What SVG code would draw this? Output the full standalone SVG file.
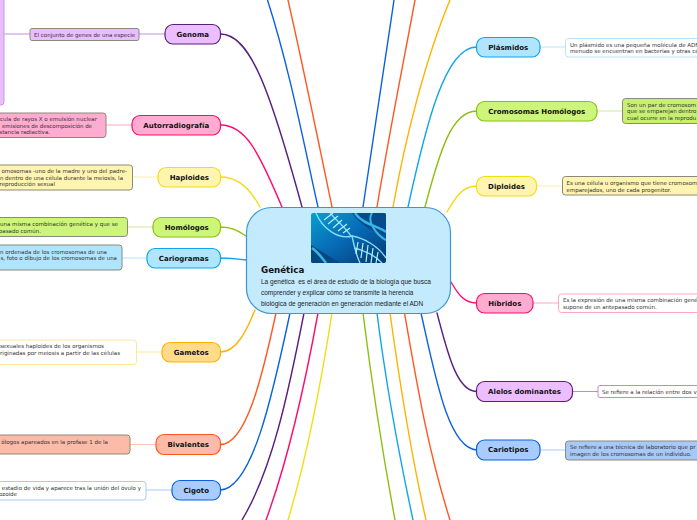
<svg xmlns="http://www.w3.org/2000/svg" width="697" height="520" viewBox="0 0 697 520">
<style>
text{font-family:"DejaVu Sans",sans-serif;fill:#111}
.n{font-size:7px;font-weight:700;text-anchor:middle;dominant-baseline:central}
.d{font-size:5.500px;fill:#333;dominant-baseline:central}
.e{text-anchor:end}
.c{fill:none;stroke-width:1.400;stroke-linecap:round}
.l{fill:none;stroke-width:1}
.b{stroke-width:1.200}
.g{stroke:#8a8a7a;stroke-width:1}
.body{font-family:"Liberation Sans",Arial,sans-serif;font-size:6.500px;fill:#222;dominant-baseline:central;white-space:pre}
</style>
<defs>
<linearGradient id="dna" x1="0" y1="0" x2="1" y2="1"><stop offset="0" stop-color="#0a9ed0"/><stop offset=".5" stop-color="#0768b4"/><stop offset="1" stop-color="#06386e"/></linearGradient>
<clipPath id="pic"><rect x="311" y="213" width="75" height="50" rx="2"/></clipPath>
</defs>
<g id="connectors">
<g class="c">
<path stroke="#5b1e7c" d="M220.500 34C250 34 270 90 302 207"/>
<path stroke="#ff0a6c" d="M220.500 125C245 125 258 150 282 207"/>
<path stroke="#f2dc12" d="M220.500 177C238 177 250 188 260 207"/>
<path stroke="#8cc00f" d="M220.500 227C232 227 238 231 246 236"/>
<path stroke="#0ea5ec" d="M220.500 258C230 258 238 259 246 260"/>
<path stroke="#ffb300" d="M220.500 352C236 352 246 332 255 310"/>
<path stroke="#ff5722" d="M220.500 444.500C246 444 262 378 276 313"/>
<path stroke="#0a62e0" d="M220.500 490C252 488 272 398 290 313"/>
<path stroke="#5b1e7c" d="M242 520C272 470 288 395 304 313"/>
<path stroke="#ff0a6c" d="M266 520C288 460 304 390 318 313"/>
<path stroke="#f2dc12" d="M288 520C306 460 320 390 332 313"/>
<path stroke="#0a62e0" d="M267.500 0C290 70 304 145 318 207"/>
<path stroke="#ff5722" d="M288 0C304 70 318 140 332 207"/>
<path stroke="#0a62e0" d="M394 0C384 70 373 140 363 207"/>
<path stroke="#ff5722" d="M415 0C402 70 388 140 377 207"/>
<path stroke="#ffb300" d="M450 0C425 60 405 140 393 207"/>
<path stroke="#0ea5ec" d="M476.500 47C445 47 426 125 408 207"/>
<path stroke="#8cc00f" d="M476.500 111C452 111 440 150 425 207"/>
<path stroke="#f2dc12" d="M476.500 186C462 186 455 198 447 212"/>
<path stroke="#ff0a6c" d="M476.500 303C464 303 458 294 451 282"/>
<path stroke="#5b1e7c" d="M476.500 391.500C456 391 447 350 437 313"/>
<path stroke="#0a62e0" d="M476.500 450C448 448 435 375 421 313"/>
<path stroke="#ff5722" d="M450 520C428 450 417 385 404.500 313"/>
<path stroke="#ffb300" d="M426 520C410 450 400 385 390 313"/>
<path stroke="#0ea5ec" d="M413 520C398 450 386 385 377 313"/>
<path stroke="#8cc00f" d="M395 520C382 450 372 385 363 313"/>
</g>
<g class="l">
<path stroke="#c08fdd" d="M4 34H30M139 34H165"/>
<path stroke="#ffa6c8" d="M106 125H132"/>
<path stroke="#fbeeaa" d="M132.500 177H158"/>
<path stroke="#cfe89a" d="M127.500 227H153"/>
<path stroke="#b5e4fa" d="M122 258H147"/>
<path stroke="#ffe6a0" d="M136.500 352H162"/>
<path stroke="#fcc4b4" d="M130 444.500H156"/>
<path stroke="#a8c8f8" d="M146 490H172"/>
<path stroke="#b5e4fa" d="M540 47H565.500"/>
<path stroke="#cfe89a" d="M597 111H622.500"/>
<path stroke="#fbeeaa" d="M536.500 186H562"/>
<path stroke="#ffa6c8" d="M533 303H558.500"/>
<path stroke="#b78fcc" d="M572.500 391.500H598"/>
<path stroke="#a8c8f8" d="M540 450H565.500"/>
</g>
</g>
<g id="central">
<rect x="246.500" y="207.500" width="204" height="106" rx="25" fill="#c4eafe" stroke="#3a96d8" stroke-width="1.200"/>
<g clip-path="url(#pic)">
<rect x="311" y="213" width="75" height="50" fill="url(#dna)"/>
<path d="M352 213H386V236C372 232 360 224 352 213Z" fill="#054a8c"/>
<path d="M311 245L340 263H311Z" fill="#05477f"/>
<g fill="none" stroke="#7fe0f5" stroke-width="1.400">
<path d="M316 213C322 228 338 240 352 236C354 245 356 255 360 263"/>
<path d="M330 213C338 222 346 228 351 236"/>
<path d="M352 236C364 238 378 246 386 258"/>
<path d="M354 248C364 250 376 256 382 263"/>
<path d="M312 248C318 252 322 258 326 263" stroke-width="2.500" stroke="#3ab5e0"/>
<path d="M355 213C362 224 378 226 386 232" stroke="#3ab5e0" stroke-width="2.500"/>
<path d="M372 213C366 222 378 236 386 240" stroke="#3ab5e0" stroke-width="2"/>
</g>
<path d="M324 220L333 213M328 224L338 216M333 228L342 220M338 231L347 224M343 233L350 228M358 242L356 254M363 243L361 258M368 245L366 262M373 248L371 263M378 252L376 263" stroke="#b5f0fa" stroke-width="1.200" fill="none"/>
</g>
<text x="261" y="270" style="font-size:8.700px;font-weight:700;dominant-baseline:central">Genética</text>
<text class="body" x="261" y="281.500">La genética  es el área de estudio de la biología que busca</text>
<text class="body" x="261" y="292.500">comprender y explicar cómo se transmite la herencia</text>
<text class="body" x="261" y="303.500">biológica de generación en generación mediante el ADN</text>
</g>
<g id="genoma">
<rect x="-10" y="-10" width="14" height="115" rx="3" fill="#e8beff" stroke="#c79ae0"/>
<rect x="30" y="28.500" width="109" height="12" rx="2" fill="#e8beff" class="g"/>
<text class="d" x="34" y="34.500">El conjunto de genes de una especie</text>
<rect x="165" y="24.500" width="55.500" height="19.500" rx="8" fill="#ecbdff" stroke="#5b1e7c" class="b"/>
<text class="n" x="192.750" y="34.500">Genoma</text>
</g>
<g id="autorradiografia">
<rect x="-10" y="113" width="116" height="24.500" rx="3" fill="#ffacd0" class="g"/>
<text class="d" x="0" y="119" textLength="97">cula de rayos X o emulsión nuclear</text>
<text class="d" x="2" y="126" textLength="90">emisiones de descomposición de</text>
<text class="d e" x="50" y="132">stancia radiactiva.</text>
<rect x="132" y="115.500" width="88.500" height="19.500" rx="8" fill="#ffacd0" stroke="#ff0a6c" class="b"/>
<text class="n" x="176.250" y="125.500">Autorradiografía</text>
</g>
<g id="haploides">
<rect x="-10" y="165" width="142.500" height="25" rx="3" fill="#fff5b0" class="g"/>
<text class="d e" x="127" y="171">omosomas -uno de la madre y uno del padre-</text>
<text class="d e" x="123" y="178">n dentro de una célula durante la meiosis, la</text>
<text class="d e" x="55" y="184">reproducción sexual</text>
<rect x="158" y="167.500" width="62.500" height="19.500" rx="8" fill="#fff5b0" stroke="#f2dc12" class="b"/>
<text class="n" x="189.250" y="177.500">Haploides</text>
</g>
<g id="homologos">
<rect x="-10" y="217.500" width="137.500" height="19" rx="3" fill="#ccf57a" class="g"/>
<text class="d e" x="118" y="224">una misma combinación genética y que se</text>
<text class="d e" x="41" y="231">pasado común.</text>
<rect x="153" y="217.500" width="67.500" height="19.500" rx="8" fill="#ccf57a" stroke="#8cc00f" class="b"/>
<text class="n" x="186.750" y="227.500">Homólogos</text>
</g>
<g id="cariogramas">
<rect x="-10" y="245" width="132" height="25" rx="3" fill="#b0e5ff" class="g"/>
<text class="d e" x="107" y="252">n ordenada de los cromosomas de una</text>
<text class="d e" x="117" y="258">s, foto o dibujo de los cromosomas de una</text>
<rect x="147" y="248.500" width="73.500" height="19.500" rx="8" fill="#b0e5ff" stroke="#0ea5ec" class="b"/>
<text class="n" x="183.750" y="258.500">Cariogramas</text>
</g>
<g id="gametos">
<rect x="-10" y="340" width="146.500" height="24.500" rx="3" fill="#fff" stroke="#ffe6a0"/>
<text class="d e" x="104" y="346">sexuales haploides de los organismos</text>
<text class="d e" x="120" y="352.500">riginadas por meiosis a partir de las células</text>
<rect x="162" y="342.500" width="58.500" height="19.500" rx="8" fill="#ffdb8a" stroke="#ffb300" class="b"/>
<text class="n" x="191.250" y="352.500">Gametos</text>
</g>
<g id="bivalentes">
<rect x="-10" y="435" width="140" height="19" rx="3" fill="#fbbba8" class="g"/>
<text class="d e" x="108" y="442">ólogos apareados en la profase 1 de la</text>
<rect x="156" y="434.500" width="64.500" height="20" rx="8" fill="#fbbba8" stroke="#ff5722" class="b"/>
<text class="n" x="188.250" y="445">Bivalentes</text>
</g>
<g id="cigoto">
<rect x="-10" y="481.500" width="156" height="18.500" rx="3" fill="#fff" stroke="#a8c8f8"/>
<text class="d e" x="141" y="488">estadio de vida y aparece tras la unión del óvulo y</text>
<text class="d e" x="17" y="494">ozoide</text>
<rect x="172" y="480.500" width="48.500" height="19.500" rx="8" fill="#a8ccff" stroke="#0a62e0" class="b"/>
<text class="n" x="196.250" y="490.500">Cigoto</text>
</g>
<g id="plasmidos">
<rect x="476.500" y="37.500" width="63.500" height="19.500" rx="8" fill="#b0e5ff" stroke="#0ea5ec" class="b"/>
<text class="n" x="508.250" y="47.500">Plásmidos</text>
<rect x="565.500" y="38.500" width="142" height="18.500" rx="3" fill="#fff" stroke="#b5e4fa"/>
<text class="d" x="570" y="45">Un plásmido es una pequeña molécula de ADN</text>
<text class="d" x="570" y="51">menudo se encuentran en bacterias y otras cé</text>
</g>
<g id="cromosomas-homologos">
<rect x="476.500" y="101.500" width="120.500" height="19.500" rx="8" fill="#ccf57a" stroke="#8cc00f" class="b"/>
<text class="n" x="536.750" y="111.500">Cromosomas Homólogos</text>
<rect x="622.500" y="98.500" width="85" height="25" rx="3" fill="#c8f070" class="g"/>
<text class="d" x="627" y="105">Son un par de cromosom</text>
<text class="d" x="627" y="111">que se emparejan dentro</text>
<text class="d" x="627" y="118">cual ocurre en la reprodu</text>
</g>
<g id="diploides">
<rect x="476.500" y="176.500" width="60" height="19.500" rx="8" fill="#fff5b0" stroke="#f2dc12" class="b"/>
<text class="n" x="506.500" y="186.500">Diploides</text>
<rect x="562.500" y="176.500" width="145" height="18.500" rx="3" fill="#fff5b0" class="g"/>
<text class="d" x="566.500" y="183">Es una célula u organismo que tiene cromosom</text>
<text class="d" x="566.500" y="189.500">emparejados, uno de cada progenitor.</text>
</g>
<g id="hibridos">
<rect x="476.500" y="293.500" width="56.500" height="19.500" rx="8" fill="#ffacd0" stroke="#ff0a6c" class="b"/>
<text class="n" x="504.750" y="303.500">Híbridos</text>
<rect x="558.500" y="294" width="149" height="18.500" rx="3" fill="#fff" stroke="#ffa6c8"/>
<text class="d" x="563" y="300">Es la expresión de una misma combinación gené</text>
<text class="d" x="563" y="307">supone de un antepasado común.</text>
</g>
<g id="alelos-dominantes">
<rect x="476.500" y="381.500" width="96" height="20" rx="8" fill="#ecbdff" stroke="#5b1e7c" class="b"/>
<text class="n" x="524.500" y="391.500">Alelos dominantes</text>
<rect x="598" y="385.500" width="110" height="12" rx="2" fill="#fff" stroke="#b78fcc"/>
<text class="d" x="602" y="391.500">Se refiere a la relación entre dos v</text>
</g>
<g id="cariotipos">
<rect x="476.500" y="440" width="63.500" height="20" rx="8" fill="#a8ccff" stroke="#0a62e0" class="b"/>
<text class="n" x="508.250" y="450">Cariotipos</text>
<rect x="565.500" y="441" width="142" height="19" rx="3" fill="#a8c8f8" class="g"/>
<text class="d" x="570" y="447">Se refiere a una técnica de laboratorio que pr</text>
<text class="d" x="570" y="454">imagen de los cromosomas de un individuo.</text>
</g>
</svg>
